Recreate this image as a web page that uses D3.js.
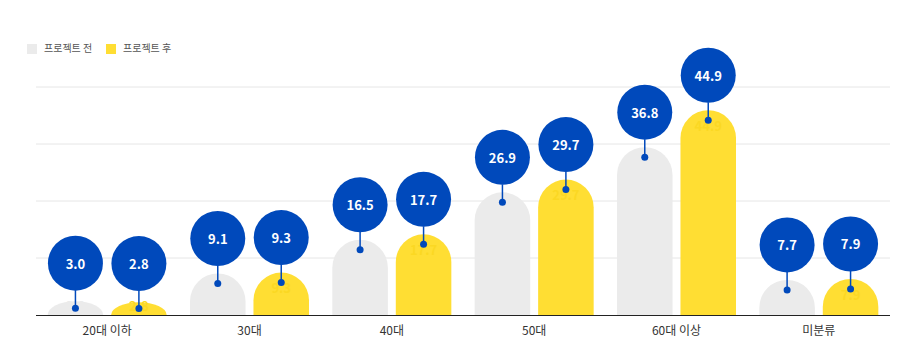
<!DOCTYPE html>
<html>
<head>
<meta charset="utf-8">
<script src="https://cdn.jsdelivr.net/npm/d3@7"></script>
<style>
  body { margin: 0; background: #fff; }
  svg { display: block; font-family: "Noto Sans CJK KR", "Noto Sans", sans-serif; }
</style>
</head>
<body>
<div id="chart"></div>
<script>
const categories = ["20대 이하", "30대", "40대", "50대", "60대 이상", "미분류"];
const before = [3.0, 9.1, 16.5, 26.9, 36.8, 7.7];
const after = [2.8, 9.3, 17.7, 29.7, 44.9, 7.9];
const seriesNames = ["프로젝트 전", "프로젝트 후"];
const gridTicks = [12.5, 25, 37.5, 50];

const width = 917, height = 353;
const margin = { top: 87, right: 27, bottom: 38, left: 36 };

const colorBar = ["#ebebeb", "#ffde33"];
const colorText = ["#ebebeb", "#fbd823"];
const blue = "#0049bb";

const svg = d3.select("#chart").append("svg")
  .attr("width", width)
  .attr("height", height);

const x = d3.scaleBand()
  .domain(categories)
  .range([margin.left, width - margin.right]);

const xs = d3.scaleBand()
  .domain([0, 1])
  .range([0, 119])
  .paddingInner(0.125);

const y = d3.scaleLinear()
  .domain([0, 50])
  .range([height - margin.bottom, margin.top]);

// grid
svg.append("g")
  .selectAll("line")
  .data(gridTicks)
  .join("line")
  .attr("x1", margin.left)
  .attr("x2", width - margin.right)
  .attr("y1", d => y(d))
  .attr("y2", d => y(d))
  .attr("stroke", "#e6e6e6")
  .attr("stroke-width", 1);

// clip so the rounded rects stop at the axis
svg.append("clipPath").attr("id", "plotclip")
  .append("rect")
  .attr("x", 0).attr("y", 0)
  .attr("width", width)
  .attr("height", y(0));

const rows = categories.map((c, i) => [
  { cat: c, s: 0, v: before[i] },
  { cat: c, s: 1, v: after[i] },
]).flat();

const groupOffset = (x.bandwidth() - 119) / 2;
const bx = d => x(d.cat) + groupOffset + xs(d.s);
const bw = xs.bandwidth();

const bars = svg.append("g").attr("clip-path", "url(#plotclip)");

bars.selectAll("rect")
  .data(rows)
  .join("rect")
  .attr("x", bx)
  .attr("width", bw)
  .attr("y", d => y(d.v))
  .attr("height", d => y(0) - y(d.v) + bw / 2)
  .attr("rx", bw / 2)
  .attr("ry", d => Math.min(bw / 2, y(0) - y(d.v)))
  .attr("fill", d => colorBar[d.s]);

const dotY = d => y(d.v) + Math.min(10, (y(0) - y(d.v)) / 2);

// faint value label inside bars
bars.selectAll("text")
  .data(rows)
  .join("text")
  .attr("x", d => bx(d) + bw / 2)
  .attr("y", d => Math.min(dotY(d) + 7, y(0) - 8))
  .attr("text-anchor", "middle")
  .attr("dominant-baseline", "middle")
  .attr("font-size", 13)
  .attr("font-weight", 700)
  .attr("fill", d => colorText[d.s])
  .text(d => d.v.toFixed(1));

// axis line
svg.append("line")
  .attr("x1", margin.left)
  .attr("x2", width - margin.right)
  .attr("y1", y(0) + 0.5)
  .attr("y2", y(0) + 0.5)
  .attr("stroke", "#222")
  .attr("stroke-width", 1.2);

// x labels
svg.append("g")
  .selectAll("text")
  .data(categories)
  .join("text")
  .attr("x", d => x(d) + x.bandwidth() / 2)
  .attr("y", y(0) + 17)
  .attr("text-anchor", "middle")
  .attr("dominant-baseline", "middle")
  .attr("font-size", 12)
  .attr("fill", "#333")
  .text(d => d);

// bubbles
const bubbles = svg.append("g")
  .selectAll("g")
  .data(rows)
  .join("g")
  .attr("transform", d => `translate(${bx(d) + bw / 2},${dotY(d)})`);

bubbles.append("line")
  .attr("y1", -45 + 27)
  .attr("y2", 0)
  .attr("stroke", blue)
  .attr("stroke-width", 1.5);

bubbles.append("circle")
  .attr("r", 3.5)
  .attr("fill", blue);

bubbles.append("circle")
  .attr("cy", -45)
  .attr("r", 27.5)
  .attr("fill", blue);

bubbles.append("text")
  .attr("y", -45)
  .attr("text-anchor", "middle")
  .attr("dominant-baseline", "central")
  .attr("font-size", 13)
  .attr("font-weight", 700)
  .attr("fill", "#fff")
  .text(d => d.v.toFixed(1));

// legend
const legend = svg.append("g")
  .selectAll("g")
  .data(seriesNames)
  .join("g")
  .attr("transform", (d, i) => `translate(${27 + i * 79},44)`);

legend.append("rect")
  .attr("width", 10)
  .attr("height", 10)
  .attr("fill", (d, i) => colorBar[i]);

legend.append("text")
  .attr("x", 17)
  .attr("y", 5.5)
  .attr("dominant-baseline", "middle")
  .attr("font-size", 10)
  .attr("fill", "#555")
  .text(d => d);
</script>
</body>
</html>
